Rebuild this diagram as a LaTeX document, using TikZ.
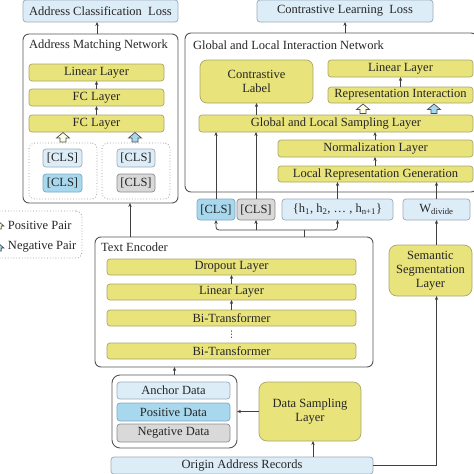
\documentclass[tikz,border=0pt]{standalone}
\usepackage{fontspec}
\setmainfont{Liberation Serif}
\newfontfamily\serf{Liberation Serif}
\newfontfamily\dejav{DejaVu Sans}
\usetikzlibrary{arrows.meta,calc}
\definecolor{ylw}{HTML}{E8E37B}
\definecolor{ylwb}{HTML}{A9A66C}
\definecolor{lblue}{HTML}{DDEDF8}
\definecolor{lblueb}{HTML}{9AAAB8}
\definecolor{mblue}{HTML}{A8D8EE}
\definecolor{mblueb}{HTML}{7FA8BE}
\definecolor{gry}{HTML}{D9D9D9}
\definecolor{gryb}{HTML}{8C8C8C}
\definecolor{cream}{HTML}{FFFCE8}
\definecolor{cont}{HTML}{555555}
\tikzset{
  every node/.style={font=\serf\fontsize{12.5}{14}\selectfont, text=black!85, inner sep=0pt, outer sep=0pt},
  nw/.style={anchor=north west},
  ylayer/.style={nw, draw=ylwb, fill=ylw, line width=0.7pt, rounded corners=3pt},
  lbbox/.style={nw, draw=lblueb, fill=lblue, line width=0.7pt, rounded corners=3pt},
  mbbox/.style={nw, draw=mblueb, fill=mblue, line width=0.7pt, rounded corners=3pt},
  grbox/.style={nw, draw=gryb, fill=gry, line width=0.7pt, rounded corners=3pt},
  container/.style={nw, draw=cont, line width=0.9pt, rounded corners=6pt},
  dotbox/.style={nw, draw=gray!80, dotted, line width=0.8pt, rounded corners=6pt},
  title/.style={anchor=west},
  arr/.style={draw=black!75, line width=0.8pt, -{Stealth[length=4pt,width=3.4pt]}},
  hollowarrow/.pic={\draw[pic actions, line width=0.7pt] (-3,0) -- (-3,-4) -- (-6.5,-4) -- (0,-9.5) -- (6.5,-4) -- (3,-4) -- (3,0) -- cycle;}
}
\begin{document}
\begin{tikzpicture}[x=1pt,y=-1pt]
\useasboundingbox (0,0) rectangle (474,474);
% losses
\node[lbbox, minimum width=155pt, minimum height=22pt] (acl) at (23,0) {Address Classification\ \ Loss};
\node[lbbox, minimum width=176pt, minimum height=22pt] (cll) at (257,0) {Contrastive Learning\ \ Loss};
% Address Matching Network
\node[container, minimum width=155pt, minimum height=169pt] (amn) at (23,34) {};
\node[title] (amnt) at (29,46) {Address Matching Network};
\node[ylayer, minimum width=135pt, minimum height=17pt] (aml1) at (29,64) {Linear Layer};
\node[ylayer, minimum width=135pt, minimum height=17pt] (amf1) at (29,89) {FC Layer};
\node[ylayer, minimum width=135pt, minimum height=17pt] (amf2) at (29,115) {FC Layer};
\pic[draw=black!70, fill=cream] at (63,142) {hollowarrow};
\pic[draw=black!70, fill=mblue] at (135,142) {hollowarrow};
\node[dotbox, minimum width=68pt, minimum height=56pt] (pbox) at (29,143) {};
\node[dotbox, minimum width=68pt, minimum height=56pt] (nbox) at (102,143) {};
\node[lbbox, minimum width=39pt, minimum height=18pt] (pc1) at (43,149) {[CLS]};
\node[mbbox, minimum width=39pt, minimum height=18pt] (pc2) at (43,174) {[CLS]};
\node[lbbox, minimum width=38pt, minimum height=18pt] (nc1) at (117,149) {[CLS]};
\node[grbox, minimum width=38pt, minimum height=18pt] (nc2) at (117,174) {[CLS]};
\draw[arr] (amf1.north) -- (aml1.south);
\draw[arr] (amf2.north) -- (amf1.south);
\draw[arr] (97,0 |- amn.north) -- (97,0 |- acl.south);
% legend
\node[dotbox, minimum width=92pt, minimum height=47pt] (leg) at (-10,211) {};
\pic[draw=black!70, fill=cream, scale=0.75] at (-1,229) {hollowarrow};
\pic[draw=black!70, fill=mblue, scale=0.75] at (-1,251) {hollowarrow};
\node[anchor=west] (legp) at (8,225) {Positive Pair};
\node[anchor=west] (legn) at (8,247) {Negative Pair};
% Global and Local Interaction Network
\node[container, minimum width=292pt, minimum height=159pt] (glin) at (185,33) {};
\node[title] (glint) at (193,45) {Global and Local Interaction Network};
\node[ylayer, rounded corners=7pt, minimum width=113pt, minimum height=43pt, align=center] (cl) at (200,60) {Contrastive\\Label};
\node[ylayer, minimum width=145pt, minimum height=17pt] (gl1) at (328,60) {Linear Layer};
\node[ylayer, minimum width=145pt, minimum height=16pt] (ri) at (328,87) {Representation Interaction};
\pic[draw=black!70, fill=cream] at (363,113.5) {hollowarrow};
\pic[draw=black!70, fill=mblue] at (434,113.5) {hollowarrow};
\node[ylayer, minimum width=274pt, minimum height=17pt] (glsl) at (199,115) {Global and Local Sampling Layer};
\node[ylayer, minimum width=195pt, minimum height=17pt] (norm) at (278,140) {Normalization Layer};
\node[ylayer, minimum width=195pt, minimum height=16pt] (lrg) at (278,166) {Local Representation Generation};
\draw[arr] (ri.north) -- (gl1.south);
\draw[arr] (cl.south |- glsl.north) -- (cl.south);
\draw[arr] (375,0 |- norm.north) -- (375,0 |- glsl.south);
\draw[arr] (375,0 |- lrg.north) -- (375,0 |- norm.south);
\draw[arr] (cll.south |- glin.north) -- (cll.south);
% representation row
\node[mbbox, minimum width=38pt, minimum height=21pt] (clsa) at (197,199) {[CLS]};
\node[grbox, minimum width=38pt, minimum height=21pt] (clsb) at (237,199) {[CLS]};
\node[lbbox, minimum width=111pt, minimum height=21pt] (hb) at (282,199) {\{h\textsubscript{1}, h\textsubscript{2}, \dots\ , h\textsubscript{n+1}\}};
\node[lbbox, minimum width=67pt, minimum height=21pt] (wd) at (403,199) {W\textsubscript{divide}};
\draw[arr] (clsa.north) -- (clsa.north |- glsl.south);
\draw[arr] (clsb.north) -- (clsb.north |- glsl.south);
\draw[arr] (hb.north) -- (hb.north |- lrg.south);
\draw[arr] (wd.north) -- (wd.north |- lrg.south);
% Text Encoder
\node[container, minimum width=278pt, minimum height=130pt] (te) at (95,237) {};
\node[title] (tet) at (101,247) {Text Encoder};
\node[ylayer, minimum width=249pt, minimum height=16pt] (drop) at (107,259) {Dropout Layer};
\node[ylayer, minimum width=249pt, minimum height=16pt] (lin) at (107,284) {Linear Layer};
\node[ylayer, minimum width=249pt, minimum height=16pt] (bt1) at (107,310) {Bi-Transformer};
\node[font=\dejav\fontsize{9}{9}\selectfont] (vdots) at (231.5,335) {⋮};
\node[ylayer, minimum width=249pt, minimum height=16pt] (bt2) at (107,343) {Bi-Transformer};
\draw[arr] (lin.north) -- (drop.south);
\draw[arr] (bt1.north) -- (lin.south);
\coordinate (brc) at (304,230);
\draw[draw=black!75, line width=0.8pt] (304,0 |- te.north) -- (brc);
\draw[arr, rounded corners=3pt] (brc) -| (clsa.south);
\draw[arr, rounded corners=3pt] (brc) -| (hb.south);
\draw[arr] (clsb.south |- brc) -- (clsb.south);
\draw[arr] (130,0 |- te.north) -- (130,0 |- amn.south);
% Semantic segmentation
\node[ylayer, rounded corners=8pt, minimum width=83pt, minimum height=51pt, align=center] (ssl) at (389,245) {Semantic\\Segmentation\\Layer};
\draw[arr] (wd.south |- ssl.north) -- (wd.south);
% data
\node[container, rounded corners=8pt, minimum width=125pt, minimum height=73pt] (dg) at (112,375) {};
\node[lbbox, minimum width=113pt, minimum height=17pt] (anc) at (117,382) {Anchor Data};
\node[mbbox, minimum width=113pt, minimum height=18pt] (pos) at (117,403) {Positive Data};
\node[grbox, minimum width=113pt, minimum height=18pt] (neg) at (117,424) {Negative Data};
\node[ylayer, rounded corners=8pt, minimum width=102pt, minimum height=59pt, align=center] (dsl) at (259,382) {Data Sampling\\Layer};
\node[lbbox, minimum width=262pt, minimum height=17pt] (oar) at (111,457) {Origin Address Records};
\draw[arr] (dg.north) -- (dg.north |- te.south);
\draw[arr] (dsl.west) -- (dg.east |- dsl.west);
\draw[arr] (313,0 |- oar.north) -- (313,0 |- dsl.south);
\draw[arr] (oar.east) -| (wd.south |- ssl.south);
\end{tikzpicture}
\end{document}
